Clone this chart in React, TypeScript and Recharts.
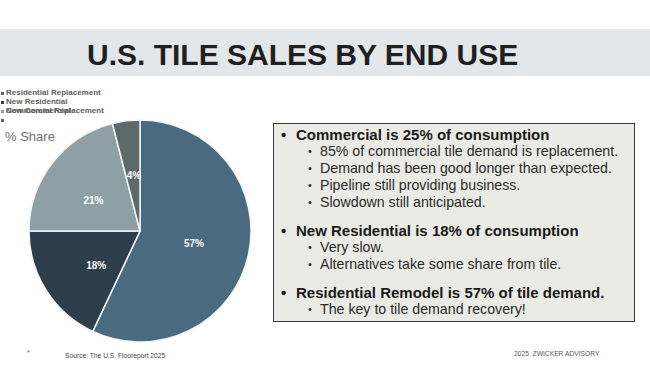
import { PieChart, Pie, Cell } from "recharts";

const segments = ["Residential Replacement", "New Residential", "Commercial Replacement", "New Commercial"];
const shares = [57, 18, 21, 4];
const sliceColors = ["#4a6a80", "#2c3e4b", "#8e9fa5", "#5e6a6a"];

const bulletGroups = [
  {
    head: "Commercial is 25% of consumption",
    items: [
      "85% of commercial tile demand is replacement.",
      "Demand has been good longer than expected.",
      "Pipeline still providing business.",
      "Slowdown still anticipated.",
    ],
  },
  { head: "New Residential is 18% of consumption", items: ["Very slow.", "Alternatives take some share from tile."] },
  { head: "Residential Remodel is 57% of tile demand.", items: ["The key to tile demand recovery!"] },
];

const pieData = segments.map((name, i) => ({ name, value: shares[i] }));

// PowerPoint "best fit" put the labels a little off the mid angle
const labelAngleNudge = [-0.7, 5.6, 4.7, -0.9];
const RAD = Math.PI / 180;

const FONT = "'Liberation Sans', Arial, sans-serif";

function SliceLabel(props: any) {
  const { cx, cy, startAngle, endAngle, outerRadius, value, name } = props;
  const idx = segments.indexOf(name ?? props.payload?.name);
  const mid = (startAngle + endAngle) / 2;
  const a = (mid + (labelAngleNudge[idx] ?? 0)) * RAD;
  const r = outerRadius * 0.5;
  const x = cx + r * Math.cos(a);
  const y = cy - r * Math.sin(a);
  return (
    <text x={x} y={y} fill="#fff" fontSize={10} fontWeight="bold" fontFamily={FONT} textAnchor="middle" dominantBaseline="central">
      {value}%
    </text>
  );
}

function SliceLegend() {
  return (
    <div style={{ position: "absolute", left: 1, top: 93, width: 130, height: 36 }}>
      {segments.map((name, i) => {
        // the last label sits on top of the third one, like in the source slide
        const textRow = i === 3 ? 2 : i;
        return (
          <div key={name}>
            <div style={{ position: "absolute", left: 0, top: i * 9 - 1.5, width: 3, height: 3, background: sliceColors[i] }} />
            <div
              style={{
                position: "absolute",
                left: 5,
                top: textRow * 9 - 5,
                fontSize: 8,
                fontWeight: "bold",
                color: "#606060",
                whiteSpace: "nowrap",
                lineHeight: "10px",
              }}
            >
              {name}
            </div>
          </div>
        );
      })}
    </div>
  );
}

export default function App() {
  return (
    <div style={{ position: "absolute", left: 0, top: 0, width: 650, height: 366, background: "#fff", overflow: "hidden", fontFamily: FONT }}>
      <div style={{ position: "absolute", left: 0, top: 29, width: 650, height: 47, background: "#e4e7e9" }} />
      <div
        style={{
          position: "absolute",
          left: 87,
          top: 35,
          fontWeight: "bold",
          fontSize: 30,
          color: "#1f1f1f",
          lineHeight: "40px",
          whiteSpace: "nowrap",
        }}
      >
        U.S. TILE SALES BY END USE
      </div>

      <div style={{ position: "absolute", left: 0, top: 0 }}>
        <PieChart width={265} height={366} margin={{ top: 0, right: 0, bottom: 0, left: 0 }}>
          <Pie
            data={pieData}
            dataKey="value"
            nameKey="name"
            cx={140}
            cy={231}
            outerRadius={111}
            startAngle={90}
            endAngle={-270}
            stroke="#f2f4f5"
            strokeWidth={1.5}
            label={SliceLabel}
            labelLine={false}
            isAnimationActive={false}
          >
            {pieData.map((d, i) => (
              <Cell key={d.name} fill={sliceColors[i]} />
            ))}
          </Pie>
        </PieChart>
      </div>

      <SliceLegend />

      <div style={{ position: "absolute", left: 5, top: 129, fontSize: 13, color: "#6f6f6f", lineHeight: "16px" }}>% Share</div>

      <div
        style={{
          position: "absolute",
          left: 273,
          top: 123,
          width: 362,
          height: 199,
          background: "#ebebe5",
          border: "1.5px solid #3a3a3a",
          boxSizing: "border-box",
        }}
      >
        {bulletGroups.map((g, gi) => (
          <div key={gi} style={{ marginTop: gi === 0 ? 2 : 11 }}>
            <div style={{ position: "relative", paddingLeft: 22, fontSize: 15, fontWeight: "bold", color: "#1a1a1a", lineHeight: "17px" }}>
              <span style={{ position: "absolute", left: 7 }}>•</span>
              {g.head}
            </div>
            {g.items.map((t, ti) => (
              <div key={ti} style={{ position: "relative", paddingLeft: 46, fontSize: 14.2, color: "#2a2a2a", lineHeight: "17px" }}>
                <span style={{ position: "absolute", left: 34, fontSize: 11 }}>•</span>
                {t}
              </div>
            ))}
          </div>
        ))}
      </div>

      <div style={{ position: "absolute", left: 27, top: 349, fontSize: 7, color: "#555" }}>*</div>
      <div style={{ position: "absolute", left: 65, top: 352, fontSize: 6.7, color: "#444" }}>Source: The U.S. Flooreport 2025</div>
      <div style={{ position: "absolute", left: 514, top: 350, fontSize: 6.7, color: "#555", whiteSpace: "pre" }}>2025  ZWICKER ADVISORY</div>
    </div>
  );
}
